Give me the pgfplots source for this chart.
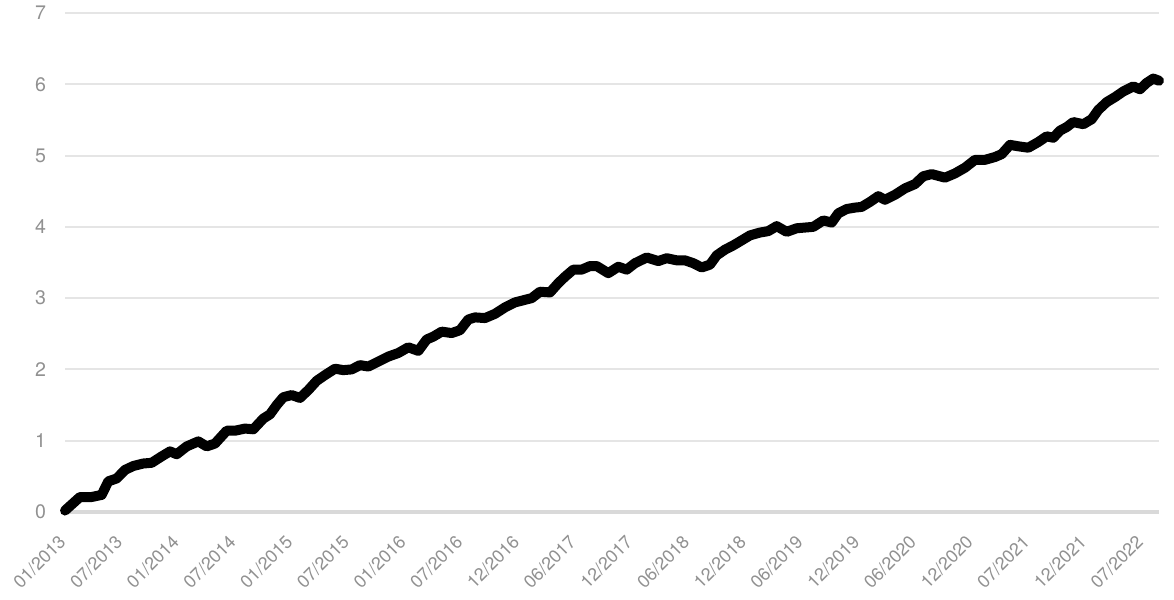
\documentclass[border=0pt]{standalone}
\usepackage{pgfplots}
\pgfplotsset{compat=1.18}
\usepackage{fontspec}
\setmainfont{TeX Gyre Heros}
\usetikzlibrary{calc}
\definecolor{gridc}{RGB}{229,229,229}
\definecolor{basec}{RGB}{217,217,217}
\definecolor{tickc}{RGB}{145,145,145}

\pgfplotstableread{
x y
0 0.02
15 0.21
26.7 0.21
36.7 0.24
43.3 0.43
51.7 0.47
60 0.59
68.3 0.645
78.3 0.68
86.7 0.69
96.7 0.78
105 0.85
111.7 0.81
121.7 0.92
133.3 0.99
141.7 0.92
150 0.96
161.7 1.14
170 1.14
180 1.17
188.3 1.16
198.3 1.31
205 1.37
211.7 1.50
218.3 1.61
226.7 1.64
235 1.60
243.3 1.71
251.7 1.84
260 1.92
270 2.01
278.3 1.99
286.7 2.00
295 2.06
303.3 2.04
313.3 2.11
323.3 2.18
333.3 2.23
343.3 2.31
353.3 2.26
361.7 2.42
368.3 2.46
376.7 2.53
386.7 2.51
395 2.55
403.3 2.70
410 2.73
420 2.72
430 2.78
440 2.87
450 2.94
458.3 2.97
466.7 3.00
475 3.09
485 3.08
493.3 3.21
500 3.30
508.3 3.40
516.7 3.40
525 3.45
531.7 3.45
543.3 3.35
553.3 3.44
561.7 3.40
570 3.49
581.7 3.57
593.3 3.52
601.7 3.56
611.7 3.53
620 3.53
628.3 3.49
636.7 3.43
645 3.47
651.7 3.60
660 3.68
668.3 3.74
676.7 3.81
685 3.88
695 3.92
703.3 3.94
711.7 4.01
721.7 3.93
731.7 3.98
740 3.99
748.3 4.00
758.3 4.09
766.7 4.06
773.3 4.19
781.7 4.25
790 4.27
796.7 4.28
805 4.35
813.3 4.43
820 4.38
830 4.45
840 4.54
850 4.60
858.3 4.71
866.7 4.74
880 4.69
890 4.75
900 4.83
910 4.94
920 4.94
930 4.98
936.7 5.02
945 5.15
953.3 5.13
963.3 5.11
973.3 5.19
981.7 5.27
988.3 5.25
995 5.35
1001.7 5.40
1008.3 5.47
1018.3 5.44
1026.7 5.51
1033.3 5.64
1041.7 5.75
1050 5.82
1058.3 5.90
1068.3 5.97
1075 5.93
1081.7 6.02
1088.3 6.08
1094 6.05
}\series

\begin{document}
\begin{tikzpicture}
\begin{axis}[
    scale only axis,
    width=547pt, height=249.5pt,
    xmin=0, xmax=1094,
    ymin=0, ymax=7,
    axis line style={draw=none},
    major tick length=0pt,
    ytick={0,1,...,7},
    ymajorgrids,
    grid style={gridc, line width=1pt},
    xtick={0,56.7,113.4,170.1,226.8,283.5,340.2,396.9,453.6,510.3,567,623.7,680.4,737.1,793.8,850.5,907.2,963.9,1020.6,1077.3},
    xticklabels={01/2013,07/2013,01/2014,07/2014,01/2015,07/2015,01/2016,07/2016,12/2016,06/2017,12/2017,06/2018,12/2018,06/2019,12/2019,06/2020,12/2020,07/2021,12/2021,07/2022},
    xticklabel style={xshift=-0.5pt, yshift=-12.5pt, rotate=45, anchor=east, font=\fontsize{9}{10}\selectfont, text=tickc, inner sep=1pt},
    yticklabel style={font=\fontsize{9.8}{10}\selectfont, text=tickc, xshift=-6pt},
    /pgf/number format/assume math mode=true,
    clip=false,
]
\draw[basec, line width=2pt] (axis cs:0,0) -- (axis cs:1094,0);
\addplot[black, line width=5pt, line join=round, line cap=round] table[x=x, y=y] {\series};
\end{axis}
\pgfresetboundingbox
\path ($(current axis.south west)+(-32.5pt,-44pt)$) rectangle ($(current axis.north east)+(7.5pt,6.5pt)$);
\end{tikzpicture}
\end{document}
